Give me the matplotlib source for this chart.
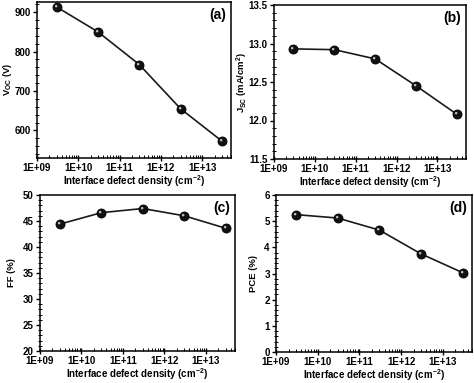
import numpy as np
import matplotlib
matplotlib.use("Agg")
import matplotlib.pyplot as plt
from matplotlib.path import Path
from matplotlib.ticker import LogLocator, MultipleLocator, FixedLocator, NullFormatter

plt.rcParams['font.family'] = ['Liberation Sans', 'DejaVu Sans']
plt.rcParams['font.weight'] = 'bold'
plt.rcParams['mathtext.fontset'] = 'custom'
plt.rcParams['mathtext.rm'] = 'Liberation Sans:bold'
plt.rcParams['mathtext.it'] = 'Liberation Sans:bold'
plt.rcParams['mathtext.bf'] = 'Liberation Sans:bold'
plt.rcParams['mathtext.default'] = 'bf'

density = [3e9, 3e10, 3e11, 3e12, 3e13]
voc = [913, 850, 767, 655, 573]
jsc = [12.93, 12.92, 12.80, 12.45, 12.08]
ff = [44.4, 46.6, 47.4, 46.0, 43.6]
pce = [5.25, 5.12, 4.66, 3.75, 3.03]

xticks = [1e9, 1e10, 1e11, 1e12, 1e13]
xticklabels = ['1E+09', '1E+10', '1E+11', '1E+12', '1E+13']
xlabel = 'Interface defect density (cm$^{-2}$)'

W, H = 474, 383
fig = plt.figure(figsize=(W / 100, H / 100), dpi=100)

def box(l, r, t, b):
    return [l / W, 1 - b / H, (r - l) / W, (b - t) / H]

# highlight marker path: small circle offset to upper-left, with invisible extent points
circ = Path.circle((-0.3, 0.3), 0.28)
verts = np.vstack([[[1, 1]], [[-1, -1]], circ.vertices])
codes = np.concatenate([[Path.MOVETO, Path.MOVETO], circ.codes])
hl = Path(verts, codes)

panels = [
    dict(box=box(37, 231, 1.5, 158), y=voc, ylim=(530, 927), major=100, minor=20,
         ylabel='V$_{OC}$ (V)', tag='(a)', fmt='{:.0f}', ylx=8),
    dict(box=box(274, 466, 5, 159), y=jsc, ylim=(11.5, 13.5), major=0.5, minor=0.1,
         ylabel='J$_{SC}$ (mA/cm$^{2}$)', tag='(b)', fmt='{:.1f}', ylx=242),
    dict(box=box(40, 235, 195, 351), y=ff, ylim=(20, 50), major=5, minor=1,
         ylabel='FF (%)', tag='(c)', fmt='{:.0f}', ylx=12),
    dict(box=box(276, 472, 195, 352), y=pce, ylim=(0, 6), major=1, minor=0.2,
         ylabel='PCE (%)', tag='(d)', fmt='{:.0f}', ylx=253),
]

for p in panels:
    ax = fig.add_axes(p['box'])
    ax.plot(density, p['y'], color='#1a1a1a', lw=1.2, marker='o', ms=6.5,
            mfc='#111111', mec='#000000', mew=0.6, zorder=3)
    ax.plot(density, p['y'], ls='none', marker=hl, ms=6.5, mfc='#bdbdbd', mec='none', zorder=4)
    ax.set_xscale('log')
    ax.set_xlim(1e9, 5e13)
    ax.set_ylim(*p['ylim'])
    ax.xaxis.set_major_locator(FixedLocator(xticks))
    ax.set_xticklabels(xticklabels)
    ax.xaxis.set_minor_locator(LogLocator(base=10, subs=np.arange(2, 10), numticks=20))
    ax.xaxis.set_minor_formatter(NullFormatter())
    ax.yaxis.set_major_locator(MultipleLocator(p['major']))
    ax.yaxis.set_minor_locator(MultipleLocator(p['minor']))
    fmt = p['fmt']
    ax.yaxis.set_major_formatter(plt.FuncFormatter(lambda v, pos, f=fmt: f.format(v)))
    ax.tick_params(axis='x', which='major', direction='inout', length=4, width=1, labelsize=7, pad=1.5)
    ax.tick_params(axis='x', which='minor', direction='in', length=2, width=0.7)
    ax.tick_params(axis='y', which='major', direction='out', length=3, width=1, labelsize=7, pad=1.5)
    ax.tick_params(axis='y', which='minor', direction='inout', length=2.5, width=0.7)
    for s in ax.spines.values():
        s.set_linewidth(1.1)
    ax.set_xlabel(xlabel, fontsize=7, fontweight='bold', labelpad=0.3)
    ax.set_ylabel(p['ylabel'], fontsize=6.8, fontweight='bold')
    ax.yaxis.set_label_coords((p['ylx'] - p['box'][0] * W) / (p['box'][2] * W), 0.5)
    ax.yaxis.label.set_va('center')
    ax.text(0.975, 0.96, p['tag'], transform=ax.transAxes, ha='right', va='top',
            fontsize=10, fontweight='bold')

fig.savefig('out.png', dpi=100)
